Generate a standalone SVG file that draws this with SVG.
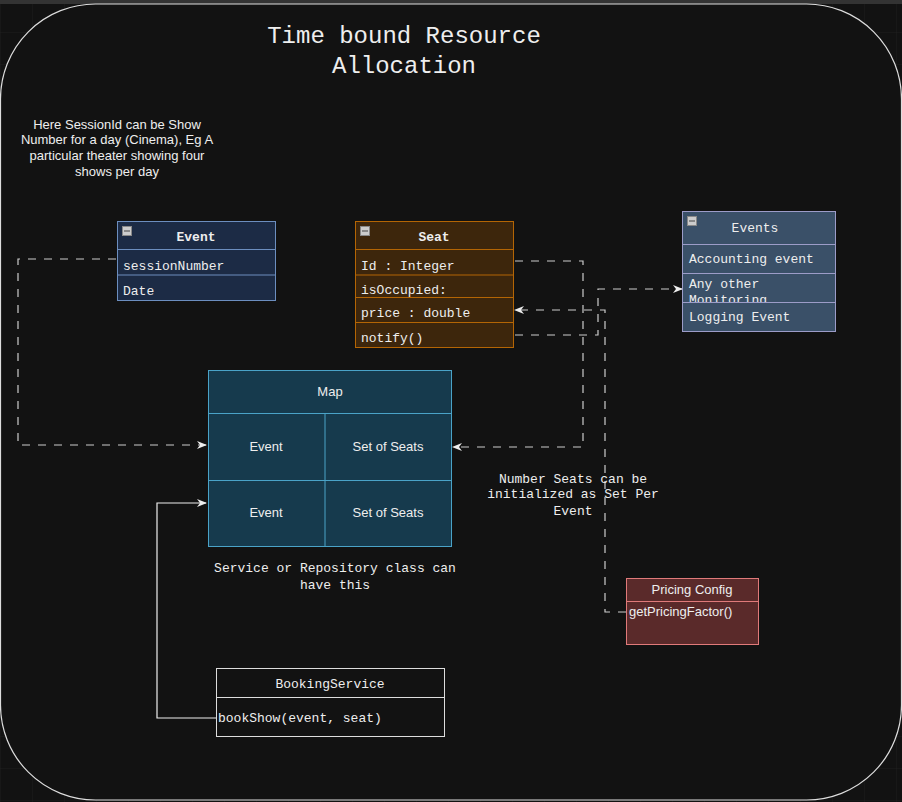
<svg xmlns="http://www.w3.org/2000/svg" width="902" height="802" viewBox="0 0 902 802">
<defs>
<pattern id="g" width="32" height="32" patternUnits="userSpaceOnUse"><path d="M32 0H0V32" fill="none" stroke="#1e1e1e" stroke-width="1"/></pattern>
<marker id="a" markerWidth="10" markerHeight="10" refX="9" refY="5" orient="auto" markerUnits="userSpaceOnUse"><path d="M0 1L10 5L0 9L3 5Z" fill="#eee"/></marker>
<style>
.m{font-family:"Liberation Mono",monospace;font-size:13px;fill:#eee}
.s{font-family:"Liberation Sans",sans-serif;font-size:13px;fill:#eee}
.d{fill:none;stroke:#ccc;stroke-width:1.2;stroke-dasharray:8 8}
</style>
</defs>
<rect width="902" height="802" fill="#121212"/>
<rect width="902" height="802" fill="url(#g)"/>
<rect x="0" y="0" width="902" height="4" fill="#333"/>
<rect x="0.5" y="4" width="901" height="796" rx="95" fill="#121212" stroke="#ddd" stroke-width="1.2"/>
<text class="m" x="404" y="43" text-anchor="middle" font-size="24" style="font-size:24px">Time bound Resource</text>
<text class="m" x="404" y="73" text-anchor="middle" style="font-size:24px">Allocation</text>
<g class="s" text-anchor="middle"><text x="117" y="129">Here SessionId can be Show</text><text x="117" y="144">Number for a day (Cinema), Eg A</text><text x="117" y="160">particular theater showing four</text><text x="117" y="176">shows per day</text></g>
<g id="connectors">
<path class="d" d="M116 259H18V445H206" marker-end="url(#a)"/>
<path class="d" d="M515 261H583V447H453" marker-end="url(#a)"/>
<path class="d" d="M515 335H598V289H682" marker-end="url(#a)"/>
<path class="d" d="M626 612H605V310H515" marker-end="url(#a)"/>
<path d="M217 718H157V503H206" fill="none" stroke="#eee" stroke-width="1.2" marker-end="url(#a)"/>
</g>
<g id="event">
<rect x="117.5" y="221.5" width="158" height="79" fill="#1c2b45" stroke="#6c8ebf"/>
<line x1="117.5" y1="249.5" x2="275.5" y2="249.5" stroke="#6c8ebf"/><line x1="117.5" y1="275" x2="275.5" y2="275" stroke="#6c8ebf"/>
<rect x="122.5" y="226.5" width="9" height="9" fill="#ccc" stroke="#888"/><line x1="124" y1="231" x2="130" y2="231" stroke="#444"/>
<text class="m" x="196" y="241" text-anchor="middle" font-weight="bold">Event</text>
<text class="m" x="123" y="270">sessionNumber</text><text class="m" x="123" y="295">Date</text>
</g>
<g id="seat">
<rect x="355.5" y="221.5" width="158" height="126" fill="#3d260c" stroke="#b46504"/>
<line x1="355.5" y1="249.5" x2="513.5" y2="249.5" stroke="#b46504"/><line x1="355.5" y1="275" x2="513.5" y2="275" stroke="#b46504"/><line x1="355.5" y1="297.5" x2="513.5" y2="297.5" stroke="#b46504"/><line x1="355.5" y1="322.5" x2="513.5" y2="322.5" stroke="#b46504"/>
<rect x="360.5" y="226.5" width="9" height="9" fill="#ccc" stroke="#888"/><line x1="362" y1="231" x2="368" y2="231" stroke="#444"/>
<text class="m" x="434" y="241" text-anchor="middle" font-weight="bold">Seat</text>
<text class="m" x="361" y="270">Id : Integer</text><text class="m" x="361" y="294">isOccupied:</text><text class="m" x="361" y="317">price : double</text><text class="m" x="361" y="342">notify()</text>
</g>
<g id="events">
<rect x="682.5" y="211.5" width="153" height="120" fill="#3a5068" stroke="#9c9cc8"/>
<line x1="682.5" y1="244.5" x2="835.5" y2="244.5" stroke="#9c9cc8"/><line x1="682.5" y1="273.5" x2="835.5" y2="273.5" stroke="#9c9cc8"/><line x1="682.5" y1="302.5" x2="835.5" y2="302.5" stroke="#9c9cc8"/>
<rect x="687.5" y="216.5" width="9" height="9" fill="#ccc" stroke="#888"/><line x1="689" y1="221" x2="695" y2="221" stroke="#444"/>
<text class="m" x="755" y="232" text-anchor="middle">Events</text>
<text class="m" x="689" y="263">Accounting event</text><text class="m" x="689" y="288">Any other</text>
<svg x="683" y="290" width="152" height="12" overflow="hidden"><text class="m" x="6" y="14">Monitoring</text></svg>
<text class="m" x="689" y="321">Logging Event</text>
</g>
<g id="map">
<rect x="208.5" y="370.5" width="243" height="176" fill="#163a4d" stroke="#4aa3c8"/>
<line x1="208.5" y1="413.5" x2="451.5" y2="413.5" stroke="#4aa3c8"/><line x1="208.5" y1="480.5" x2="451.5" y2="480.5" stroke="#4aa3c8"/><line x1="325" y1="413.5" x2="325" y2="546.5" stroke="#4aa3c8"/>
<text class="s" x="330" y="396" text-anchor="middle">Map</text>
<text class="s" x="266" y="451" text-anchor="middle">Event</text><text class="s" x="388" y="451" text-anchor="middle">Set of Seats</text>
<text class="s" x="266" y="517" text-anchor="middle">Event</text><text class="s" x="388" y="517" text-anchor="middle">Set of Seats</text>
</g>
<g class="m" text-anchor="middle"><text x="335" y="572">Service or Repository class can</text><text x="335" y="589">have this</text>
<text x="573" y="483">Number Seats can be</text><text x="573" y="498">initialized as Set Per</text><text x="573" y="515">Event</text></g>
<g id="pricing">
<rect x="626.5" y="578.5" width="132" height="66" fill="#5a2a2a" stroke="#e07a7a"/>
<line x1="626.5" y1="601.5" x2="758.5" y2="601.5" stroke="#e07a7a"/>
<text class="s" x="692" y="594" text-anchor="middle">Pricing Config</text><text class="s" x="629" y="616">getPricingFactor()</text>
</g>
<g id="booking">
<rect x="216.5" y="668.5" width="228" height="68" fill="#121212" stroke="#ddd"/>
<line x1="216.5" y1="697.5" x2="444.5" y2="697.5" stroke="#ddd"/>
<text class="m" x="330" y="688" text-anchor="middle">BookingService</text><text class="m" x="218" y="722">bookShow(event, seat)</text>
</g>
</svg>
